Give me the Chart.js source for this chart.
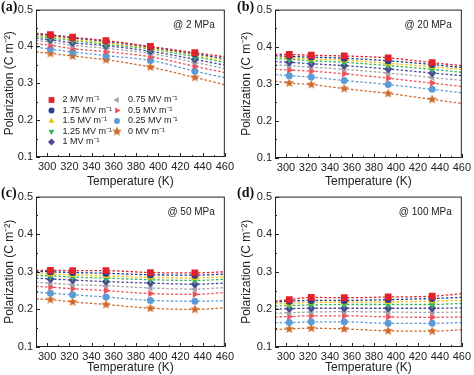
<!DOCTYPE html>
<html>
<head>
<meta charset="utf-8">
<script src="https://cdn.jsdelivr.net/npm/chart.js@4.4.0/dist/chart.umd.min.js"></script>
<style>
  body { margin: 0; background: #fff; width: 474px; height: 375px; position: relative; overflow: hidden; }
  canvas { position: absolute; }
  .tag { position: absolute; font: bold 14px 'Liberation Serif', 'Times New Roman', serif; color: #111; line-height: 14px; }
</style>
</head>
<body>
<canvas id="pa" width="237" height="188" style="left:0;top:0"></canvas>
<canvas id="pb" width="237" height="188" style="left:237px;top:0"></canvas>
<canvas id="pc" width="237" height="188" style="left:0;top:187px"></canvas>
<canvas id="pd" width="237" height="188" style="left:237px;top:187px"></canvas>
<div class="tag" style="left:1px;top:0">(a)</div>
<div class="tag" style="left:237px;top:0">(b)</div>
<div class="tag" style="left:1px;top:186px">(c)</div>
<div class="tag" style="left:237px;top:186px">(d)</div>
<script>
// measurement temperatures (K) and fit range
const temps = [303, 323, 353, 393, 433];
const fitEnds = [290, 460];
const fields = ['2', '1.75', '1.5', '1.25', '1', '0.75', '0.5', '0.25', '0'];
const xTicks = [300, 320, 340, 360, 380, 400, 420, 440, 460];
const yTicks = [0.1, 0.2, 0.3, 0.4, 0.5];

// (a) 2 MPa — rows follow fields order
const polA = [
  [0.432, 0.425, 0.416, 0.400, 0.383],
  [0.430, 0.423, 0.414, 0.398, 0.380],
  [0.426, 0.419, 0.410, 0.395, 0.377],
  [0.423, 0.416, 0.406, 0.393, 0.372],
  [0.418, 0.410, 0.402, 0.387, 0.365],
  [0.412, 0.403, 0.395, 0.381, 0.357],
  [0.403, 0.394, 0.386, 0.372, 0.346],
  [0.393, 0.385, 0.375, 0.362, 0.333],
  [0.381, 0.374, 0.364, 0.344, 0.316]
];
const endsA = [[0.436, 0.372], [0.433, 0.367], [0.430, 0.362], [0.427, 0.357], [0.422, 0.349],
  [0.416, 0.340], [0.408, 0.329], [0.398, 0.315], [0.385, 0.296]];

// (b) 20 MPa
const polB = [
  [0.379, 0.377, 0.375, 0.370, 0.357],
  [0.374, 0.372, 0.369, 0.362, 0.352],
  [0.370, 0.367, 0.364, 0.355, 0.346],
  [0.366, 0.362, 0.358, 0.349, 0.339],
  [0.358, 0.354, 0.349, 0.340, 0.329],
  [0.349, 0.345, 0.339, 0.329, 0.317],
  [0.337, 0.334, 0.327, 0.315, 0.302],
  [0.322, 0.318, 0.309, 0.298, 0.285],
  [0.302, 0.298, 0.287, 0.274, 0.258]
];
const endsB = [[0.380, 0.349], [0.376, 0.344], [0.372, 0.339], [0.368, 0.331], [0.360, 0.322],
  [0.351, 0.309], [0.339, 0.293], [0.325, 0.276], [0.307, 0.247]];

// (c) 50 MPa
const polC = [
  [0.304, 0.303, 0.303, 0.298, 0.297],
  [0.300, 0.298, 0.296, 0.292, 0.291],
  [0.294, 0.292, 0.289, 0.285, 0.284],
  [0.289, 0.286, 0.283, 0.279, 0.277],
  [0.281, 0.278, 0.274, 0.270, 0.267],
  [0.270, 0.266, 0.263, 0.257, 0.254],
  [0.259, 0.255, 0.250, 0.242, 0.240],
  [0.243, 0.239, 0.233, 0.224, 0.222],
  [0.226, 0.220, 0.213, 0.203, 0.200]
];
const endsC = [[0.304, 0.300], [0.301, 0.294], [0.295, 0.287], [0.290, 0.280], [0.283, 0.270],
  [0.272, 0.258], [0.261, 0.245], [0.246, 0.223], [0.228, 0.204]];

// (d) 100 MPa
const polD = [
  [0.226, 0.232, 0.231, 0.233, 0.235],
  [0.222, 0.224, 0.224, 0.226, 0.229],
  [0.216, 0.219, 0.219, 0.220, 0.222],
  [0.210, 0.212, 0.213, 0.213, 0.213],
  [0.202, 0.203, 0.203, 0.203, 0.203],
  [0.191, 0.193, 0.194, 0.193, 0.192],
  [0.181, 0.183, 0.183, 0.180, 0.179],
  [0.165, 0.167, 0.167, 0.163, 0.163],
  [0.148, 0.150, 0.148, 0.143, 0.142]
];
const endsD = [[0.222, 0.242], [0.220, 0.232], [0.215, 0.224], [0.209, 0.216], [0.201, 0.204],
  [0.190, 0.193], [0.180, 0.180], [0.165, 0.165], [0.146, 0.146]];

const colors = ['#e3212b', '#233f8c', '#f2c40f', '#34b854', '#4a4a98', '#a2a2a8', '#ef5158', '#5b9bd6', '#cf6a2a'];

// filled five point star for 0 MV/m
function starImage(color, r) {
  const c = document.createElement('canvas');
  c.width = c.height = r * 2 + 2;
  const g = c.getContext('2d');
  g.fillStyle = color;
  g.beginPath();
  for (let i = 0; i < 10; i++) {
    const rr = i % 2 ? r * 0.45 : r;
    const a = -Math.PI / 2 + i * Math.PI / 5;
    g.lineTo(r + 1 + rr * Math.cos(a), r + 1 + rr * Math.sin(a));
  }
  g.closePath();
  g.fill();
  return c;
}

const markers = [
  { style: 'rect', rot: 0, r: 4.8 },
  { style: 'circle', rot: 0, r: 3.5 },
  { style: 'triangle', rot: 0, r: 4.2 },
  { style: 'triangle', rot: 180, r: 4.2 },
  { style: 'rectRot', rot: 0, r: 4.2 },
  { style: 'triangle', rot: -90, r: 4.2 },
  { style: 'triangle', rot: 90, r: 4.2 },
  { style: 'circle', rot: 0, r: 3.5 },
  { style: starImage(colors[8], 5), rot: 0, r: 5 }
];

const sans = "'Liberation Sans Narrow', 'Arial Narrow', 'Liberation Sans', Arial, sans-serif";

const decor = {
  id: 'decor',
  afterDatasetsDraw(chart, args, o) {
    const { ctx, chartArea: a, scales: { x, y } } = chart;
    ctx.save();
    ctx.strokeStyle = '#222';
    ctx.lineWidth = 1;
    ctx.strokeRect(a.left + 0.5, a.top + 0.5, a.right - a.left - 1, a.bottom - a.top - 1);

    // inward ticks, major and minor
    ctx.beginPath();
    xTicks.forEach((v, i) => {
      const px = Math.round(x.getPixelForValue(v)) + 0.5;
      ctx.moveTo(px, a.bottom); ctx.lineTo(px, a.bottom - 4);
      const m = i === 0 ? v - 10 : (v + xTicks[i - 1]) / 2;
      const mx = Math.round(x.getPixelForValue(m)) + 0.5;
      ctx.moveTo(mx, a.bottom); ctx.lineTo(mx, a.bottom - 2);
    });
    yTicks.forEach((v, i) => {
      const py = Math.round(y.getPixelForValue(v)) + 0.5;
      ctx.moveTo(a.left, py); ctx.lineTo(a.left + 4, py);
      if (i > 0) {
        const my = Math.round(y.getPixelForValue((v + yTicks[i - 1]) / 2)) + 0.5;
        ctx.moveTo(a.left, my); ctx.lineTo(a.left + 2, my);
      }
    });
    ctx.stroke();

    ctx.fillStyle = '#222';
    ctx.font = '10px ' + sans;
    ctx.textAlign = 'right';
    ctx.textBaseline = 'middle';
    ctx.fillText('@ ' + o.pressure + ' MPa', a.right - 10, a.top + 16);

    if (o.legend) {
      ctx.font = '9px ' + sans;
      ctx.textAlign = 'left';
      fields.forEach((f, i) => {
        const col = i < 5 ? 0 : 1;
        const row = i < 5 ? i : i - 5;
        const mx = col ? 117 : 51.5;
        const my = 100 + row * 10.5;
        const mk = markers[i];
        ctx.fillStyle = colors[i];
        Chart.helpers.drawPoint(ctx, { pointStyle: mk.style, rotation: mk.rot, radius: mk.r * 0.85, borderWidth: 0 }, mx, my);
        ctx.fillStyle = '#222';
        ctx.fillText(f + ' MV m\u207B\u00B9', mx + 11, my);
      });
    }
    ctx.restore();
  }
};

function makeChart(id, pol, ends, pressure, box, legend) {
  const datasets = [];
  pol.forEach((row, i) => {
    datasets.push({
      data: row.map((v, j) => ({ x: temps[j], y: v })),
      showLine: false,
      backgroundColor: colors[i],
      borderColor: colors[i],
      borderWidth: 0,
      pointStyle: markers[i].style,
      rotation: markers[i].rot,
      pointRadius: markers[i].r
    });
  });
  pol.forEach((row, i) => {
    const pts = [{ x: fitEnds[0], y: ends[i][0] }]
      .concat(row.map((v, j) => ({ x: temps[j], y: v })))
      .concat([{ x: fitEnds[1], y: ends[i][1] }]);
    datasets.push({
      data: pts,
      showLine: true,
      borderColor: colors[i],
      borderWidth: 1.3,
      borderDash: [2.5, 2],
      pointRadius: 0,
      cubicInterpolationMode: 'monotone'
    });
  });

  return new Chart(document.getElementById(id), {
    type: 'scatter',
    data: { datasets },
    plugins: [decor],
    options: {
      responsive: false,
      animation: false,
      events: [],
      layout: { padding: { top: box.top, right: box.right, left: 0, bottom: 0 } },
      plugins: {
        legend: { display: false },
        tooltip: { enabled: false },
        decor: { pressure, legend }
      },
      scales: {
        x: {
          type: 'linear',
          min: 290,
          max: 460,
          afterBuildTicks: s => { s.ticks = xTicks.map(v => ({ value: v })); },
          afterFit: s => { s.height = box.xh; },
          grid: { display: false, drawTicks: false },
          border: { display: false },
          ticks: { color: '#222', font: { family: sans, size: 11 }, padding: 3, maxRotation: 0 },
          title: { display: true, text: 'Temperature (K)', color: '#222', font: { family: sans, size: 12 }, padding: { top: 0, bottom: box.tb } }
        },
        y: {
          type: 'linear',
          min: 0.1,
          max: 0.5,
          afterBuildTicks: s => { s.ticks = yTicks.map(v => ({ value: v })); },
          afterFit: s => { s.width = box.yw; },
          grid: { display: false, drawTicks: false },
          border: { display: false },
          ticks: { color: '#222', font: { family: sans, size: 11 }, padding: 3, callback: v => v.toFixed(1) },
          title: { display: true, text: 'Polarization (C m\u207B\u00B2)', color: '#222', font: { family: "'Liberation Sans', Arial, sans-serif", size: 12 }, padding: { top: 2, bottom: 0 } }
        }
      }
    }
  });
}

makeChart('pa', polA, endsA, '2', { top: 5, right: 8, yw: 36, xh: 31, tb: -1 }, true);
makeChart('pb', polB, endsB, '20', { top: 5, right: 8, yw: 38, xh: 30, tb: -1 }, false);
makeChart('pc', polC, endsC, '50', { top: 6, right: 8, yw: 36, xh: 28, tb: 0 }, false);
makeChart('pd', polD, endsD, '100', { top: 6, right: 8, yw: 38, xh: 28, tb: 0 }, false);
</script>
</body>
</html>
